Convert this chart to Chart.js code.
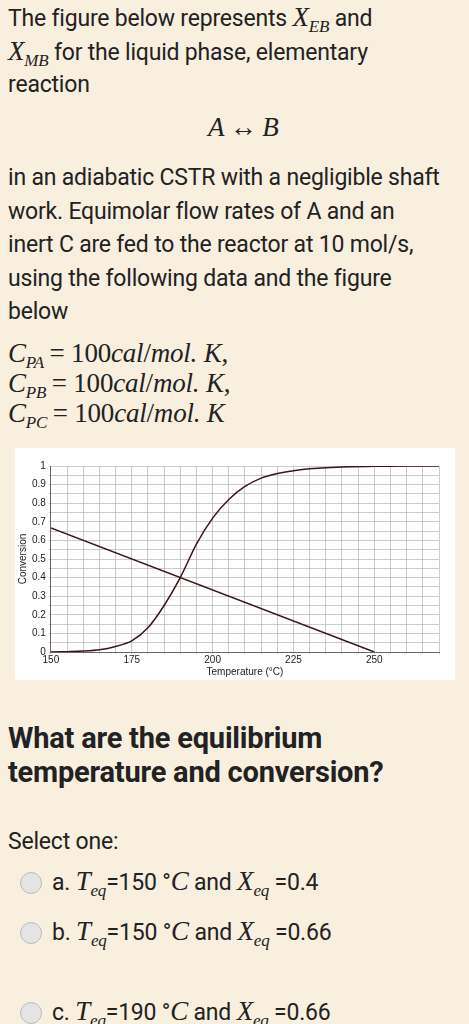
<!DOCTYPE html><html><head><meta charset="utf-8">
<script src="https://cdn.jsdelivr.net/npm/chart.js@4"></script>
<style>
body{margin:0;width:469px;height:1024px;background:#f8efdf;font-family:Roboto,"Liberation Sans",sans-serif;color:#222;position:relative;overflow:hidden}
.l{position:absolute;left:8px;font-size:23px;line-height:26px;white-space:nowrap;letter-spacing:-0.2px}
.m{font-family:"Liberation Serif",serif;font-style:italic;font-size:27px}
.r{font-family:"Liberation Serif",serif;font-size:27px}
.m sub{font-size:17px}
.b{font-weight:bold;font-size:29px;line-height:32px}
.rad{position:absolute;left:20px;width:20px;height:20px;border-radius:50%;background:#e4e4e4;border:1px solid #bbb}
#box{position:absolute;left:15px;top:448px;width:440px;height:232px;background:#fff}
</style></head><body>
<div class="l" style="top:4px">The figure below represents <span class="m">X<sub>EB</sub></span> and</div>
<div class="l" style="top:38px"><span class="m">X<sub>MB</sub></span> for the liquid phase, elementary</div>
<div class="l" style="top:72px">reaction</div>
<div class="l" style="top:114px;left:208px"><span class="m">A</span> <span class="r">↔</span> <span class="m">B</span></div>
<div class="l" style="top:165px">in an adiabatic CSTR with a negligible shaft</div>
<div class="l" style="top:199px">work. Equimolar flow rates of A and an</div>
<div class="l" style="top:232px">inert C are fed to the reactor at 10 mol/s,</div>
<div class="l" style="top:266px">using the following data and the figure</div>
<div class="l" style="top:299px">below</div>
<div class="l" style="top:340px"><span class="m">C<sub>PA</sub></span> <span class="r">= 100</span><span class="m">cal</span><span class="r">/</span><span class="m">mol. K</span><span class="r">,</span></div>
<div class="l" style="top:370px"><span class="m">C<sub>PB</sub></span> <span class="r">= 100</span><span class="m">cal</span><span class="r">/</span><span class="m">mol. K</span><span class="r">,</span></div>
<div class="l" style="top:400px"><span class="m">C<sub>PC</sub></span> <span class="r">= 100</span><span class="m">cal</span><span class="r">/</span><span class="m">mol. K</span></div>
<div id="box"><canvas id="c" width="440" height="232"></canvas></div>
<div class="l b" style="top:722px">What are the equilibrium</div>
<div class="l b" style="top:756px">temperature and conversion?</div>
<div class="l" style="top:829px">Select one:</div>
<div class="rad" style="top:872px"></div><div class="l" style="top:868px;left:52px">a. <span class="m">T<sub>eq</sub></span>=150 °<span class="m">C</span> and <span class="m">X<sub>eq</sub></span> =0.4</div>
<div class="rad" style="top:922px"></div><div class="l" style="top:918px;left:52px">b. <span class="m">T<sub>eq</sub></span>=150 °<span class="m">C</span> and <span class="m">X<sub>eq</sub></span> =0.66</div>
<div class="rad" style="top:1002px"></div><div class="l" style="top:998px;left:52px">c. <span class="m">T<sub>eq</sub></span>=190 °<span class="m">C</span> and <span class="m">X<sub>eq</sub></span> =0.66</div>
<script>
const temps=[150,155,160,165,170,175,180,185,190,195,200,205,210,215,220,225,230,240,250,260,270];
const xmb=[0,0.002,0.005,0.012,0.03,0.06,0.13,0.25,0.4,0.58,0.72,0.82,0.89,0.935,0.96,0.975,0.985,0.995,0.998,1,1];
const xebT=[150,250];
const xeb=[0.667,0];
const xTicks=[150,175,200,225,250];
new Chart(document.getElementById('c'),{type:'scatter',
data:{datasets:[
{data:temps.map((t,i)=>({x:t,y:xmb[i]})),showLine:true,borderColor:'#3a1616',borderWidth:1.5,pointRadius:0,tension:0.3},
{data:xebT.map((t,i)=>({x:t,y:xeb[i]})),showLine:true,borderColor:'#3a1616',borderWidth:1.5,pointRadius:0}]},
options:{responsive:false,animation:false,layout:{padding:{left:2,right:16,top:18,bottom:2}},
plugins:{legend:{display:false},tooltip:{enabled:false}},
scales:{x:{min:150,max:270,afterBuildTicks:a=>{a.ticks=[];for(let v=150;v<=270;v+=5)a.ticks.push({value:v});},
ticks:{font:{size:10},color:'#222',maxRotation:0,autoSkip:false,padding:0,callback:v=>xTicks.includes(v)?String(v):''},
grid:{color:'#aaa',lineWidth:0.6,tickLength:2},border:{color:'#666'},
title:{display:true,text:'Temperature (°C)',font:{size:10},color:'#222',padding:0}},
y:{min:0,max:1,afterBuildTicks:a=>{a.ticks=[];for(let i=0;i<=20;i++)a.ticks.push({value:i/20});},
ticks:{font:{size:10},color:'#222',autoSkip:false,callback:v=>{const r=Math.round(v*20);return r%2?'':(r===20?'1':r===0?'0':(v).toFixed(1));}},
grid:{color:'#aaa',lineWidth:0.6,tickLength:2},border:{color:'#666'},
title:{display:true,text:'Conversion',font:{size:10},color:'#222',padding:0}}}}});
</script></body></html>
